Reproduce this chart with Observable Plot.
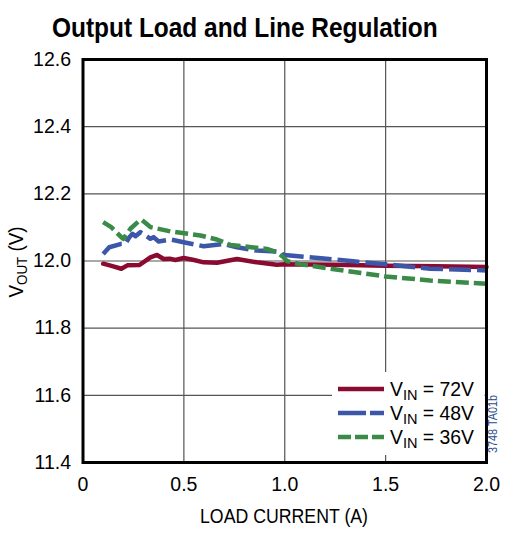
<!DOCTYPE html>
<html><head><meta charset="utf-8">
<script src="https://cdn.jsdelivr.net/npm/d3@7"></script>
<script src="https://cdn.jsdelivr.net/npm/@observablehq/plot@0.6"></script>
<style>
body{margin:0;background:#fff;}
#wrap{position:relative;width:514px;height:538px;font-family:"Liberation Sans",Arial,sans-serif;}
#title{height:45px;box-sizing:border-box;padding-top:13.5px;padding-left:52px;font-size:28px;font-weight:bold;line-height:1;white-space:nowrap;color:#000;}
#title span{display:inline-block;transform:scaleX(0.873);transform-origin:0 0;}
svg{display:block;}
</style></head>
<body><div id="wrap"><div id="title"><span>Output Load and Line Regulation</span></div></div>
<script>
const FONT = '"Liberation Sans",Arial,sans-serif';
// Load current (A) and output voltage (V) for each input voltage
const x72 = [0.10,0.15,0.19,0.22,0.28,0.334,0.367,0.40,0.43,0.458,0.499,0.55,0.598,0.664,0.763,0.862,0.961,1.00,1.25,1.50,1.75,2.00];
const v72 = [11.992,11.984,11.977,11.987,11.988,12.011,12.018,12.006,12.007,12.003,12.009,12.003,11.996,11.995,12.006,11.996,11.989,11.990,11.989,11.986,11.984,11.982];
const x48 = [0.10,0.13,0.19,0.21,0.23,0.245,0.26,0.285,0.31,0.334,0.35,0.375,0.433,0.499,0.598,0.697,0.763,0.862,0.961,1.00,1.18,1.34,1.50,1.72,2.00];
const v48 = [12.021,12.041,12.051,12.051,12.071,12.081,12.074,12.086,12.076,12.066,12.071,12.058,12.064,12.056,12.044,12.051,12.041,12.031,12.028,12.018,12.008,11.999,11.990,11.977,11.972];
const x36 = [0.10,0.14,0.19,0.20,0.235,0.275,0.29,0.334,0.433,0.582,0.664,0.73,0.834,0.912,0.961,0.994,1.01,1.08,1.31,1.50,1.72,2.00];
const v36 = [12.116,12.101,12.071,12.066,12.096,12.118,12.123,12.101,12.088,12.076,12.064,12.048,12.041,12.036,12.026,12.011,12.000,11.990,11.970,11.954,11.942,11.932];
const seriesNames = ["72V","48V","36V"];
const seriesColors = ["#8b0a32","#3d57a8","#3a8a48"];
const seriesDash = [null,"22,6","13,5"];
const xTicks = [0,0.5,1.0,1.5,2.0];
const xTickLabels = ["0","0.5","1.0","1.5","2.0"];
const yTicks = [11.4,11.6,11.8,12.0,12.2,12.4,12.6];
const yTickLabels = ["11.4","11.6","11.8","12.0","12.2","12.4","12.6"];

const rows = (xs, vs) => xs.map((x,i)=>({x, v: vs[i]}));
const r72 = rows(x72,v72), r48 = rows(x48,v48), r36 = rows(x36,v36);

const plot = Plot.plot({
  width: 514, height: 493,
  marginLeft: 82.5, marginRight: 28, marginTop: 14, marginBottom: 76,
  x: {domain:[0,2]},
  y: {domain:[11.4,12.6]},
  style: {fontFamily: FONT, fontSize: "19.5px", color: "#000", background: "#fff", overflow: "visible"},
  marks: [
    Plot.gridX(xTicks.slice(1,-1), {stroke:"#555", strokeOpacity:1, strokeWidth:1.2}),
    Plot.gridY(yTicks.slice(1,-1), {stroke:"#555", strokeOpacity:1, strokeWidth:1.2}),
    Plot.line(r72, {x:"x", y:"v", stroke: seriesColors[0], strokeWidth:4.5, strokeLinejoin:"round"}),
    Plot.line(r48, {x:"x", y:"v", stroke: seriesColors[1], strokeWidth:4.5, strokeDasharray: seriesDash[1], strokeLinecap:"butt"}),
    Plot.line(r36, {x:"x", y:"v", stroke: seriesColors[2], strokeWidth:4.5, strokeDasharray: seriesDash[2], strokeLinecap:"butt"}),
    Plot.axisX({ticks: xTicks, tickSize:0, tickPadding:15, tickFormat: d => xTickLabels[xTicks.indexOf(d)], label:null, fontSize:19.5}),
    Plot.axisY({ticks: yTicks, tickSize:0, tickPadding:12, tickFormat: d => yTickLabels[yTicks.indexOf(d)], label:null, fontSize:19.5}),
    Plot.frame({stroke:"#000", strokeWidth:3})
  ]
});
document.getElementById("wrap").appendChild(plot);

const svg = d3.select(plot);
// x-axis label
svg.append("text").attr("x",284).attr("y",478).attr("text-anchor","middle")
  .attr("font-size",21).attr("font-family",FONT).attr("fill","#000")
  .attr("textLength",168).attr("lengthAdjust","spacingAndGlyphs").text("LOAD CURRENT (A)");
// y-axis label
const yl = svg.append("text").attr("transform","translate(23,217) rotate(-90)").attr("text-anchor","middle")
  .attr("font-size",21).attr("font-family",FONT).attr("fill","#000")
  .attr("textLength",71).attr("lengthAdjust","spacingAndGlyphs");
yl.append("tspan").text("V");
yl.append("tspan").attr("font-size",15).attr("dy",4).text("OUT");
yl.append("tspan").attr("dy",-4).text(" (V)");
// legend
const lg = svg.append("g");
lg.append("rect").attr("x",332).attr("y",327).attr("width",152.5).attr("height",83).attr("fill","#fff");
seriesNames.forEach((name,i)=>{
  const y = 344 + i*24;
  const ln = lg.append("line").attr("x1",338).attr("x2",384).attr("y1",y).attr("y2",y)
    .attr("stroke",seriesColors[i]).attr("stroke-width",4.5);
  if (seriesDash[i]) ln.attr("stroke-dasharray", i===1 ? "28,4" : "13,4");
  const t = lg.append("text").attr("x",390).attr("y",y+7).attr("text-anchor","start")
    .attr("font-size",20).attr("font-family",FONT).attr("fill","#000")
    .attr("textLength",84).attr("lengthAdjust","spacingAndGlyphs");
  t.append("tspan").text("V");
  t.append("tspan").attr("font-size",15).attr("dy",4).text("IN");
  t.append("tspan").attr("dy",-4).text(" = " + name);
});
// figure code
svg.append("text").attr("transform","translate(497,379) rotate(-90)").attr("text-anchor","middle")
  .attr("font-size",12).attr("font-family",FONT).attr("fill","#2b4c8c")
  .attr("textLength",58).attr("lengthAdjust","spacingAndGlyphs").text("3748 TA01b");
</script>
</body></html>
